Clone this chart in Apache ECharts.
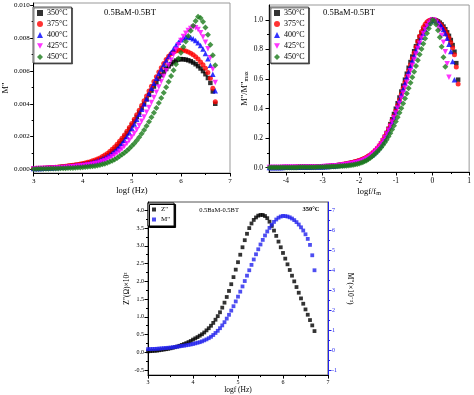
<!DOCTYPE html>
<html><head><meta charset="utf-8">
<script src="https://cdn.jsdelivr.net/npm/echarts@6/dist/echarts.min.js"></script>
<style>html,body{margin:0;padding:0;background:#fff}#c{width:474px;height:395px}</style>
</head><body><div id="c"></div>
<script>
// log10 frequency grid (Hz)
const logF = [1.60,1.65,1.70,1.75,1.80,1.85,1.90,1.95,2.00,2.05,2.10,2.15,2.20,2.25,2.30,2.35,2.40,2.45,2.50,2.55,2.60,2.65,2.70,2.75,2.80,2.85,2.90,2.95,
3.00,3.05,3.10,3.15,3.20,3.25,3.30,3.35,3.40,3.45,3.50,3.55,3.60,3.65,3.70,3.75,3.80,3.85,3.90,3.95,
4.00,4.05,4.10,4.15,4.20,4.25,4.30,4.35,4.40,4.45,4.50,4.55,4.60,4.65,4.70,4.75,4.80,4.85,4.90,4.95,
5.00,5.05,5.10,5.15,5.20,5.25,5.30,5.35,5.40,5.45,5.50,5.55,5.60,5.65,5.70,5.75,5.80,5.85,5.90,5.95,
6.00,6.05,6.10,6.15,6.20,6.25,6.30,6.35,6.40,6.45,6.50,6.55,6.60,6.65,6.70];

// M'' values in units of 1e-3
const m350 = [0.010,0.011,0.012,0.013,0.014,0.015,0.016,0.017,0.018,0.019,0.020,0.021,0.022,0.024,0.026,0.028,0.030,0.032,0.034,0.036,0.038,0.040,0.042,0.043,0.044,0.046,0.047,0.048,
0.050,0.055,0.060,0.065,0.070,0.080,0.090,0.100,0.110,0.120,0.130,0.145,0.160,0.175,0.190,0.210,0.225,0.245,0.265,0.285,
0.31,0.34,0.37,0.40,0.44,0.49,0.54,0.60,0.67,0.76,0.86,0.97,1.10,1.24,1.40,1.58,1.77,1.98,2.20,2.44,
2.68,2.93,3.19,3.46,3.73,4.00,4.27,4.54,4.80,5.05,5.29,5.52,5.74,5.94,6.12,6.28,6.42,6.54,6.63,6.69,
6.72,6.71,6.69,6.65,6.59,6.51,6.41,6.29,6.15,5.99,5.80,5.57,5.27,4.75,4.00];
const m375 = [0.012,0.013,0.014,0.015,0.016,0.017,0.018,0.019,0.020,0.021,0.022,0.024,0.026,0.028,0.030,0.032,0.034,0.036,0.038,0.040,0.042,0.044,0.046,0.048,0.050,0.052,0.055,0.058,
0.060,0.065,0.070,0.075,0.080,0.090,0.100,0.110,0.120,0.135,0.150,0.165,0.180,0.195,0.215,0.235,0.255,0.280,0.305,0.330,
0.36,0.39,0.43,0.47,0.52,0.57,0.63,0.70,0.78,0.87,0.97,1.09,1.22,1.37,1.53,1.71,1.90,2.10,2.32,2.55,
2.80,3.06,3.33,3.61,3.90,4.19,4.48,4.77,5.06,5.35,5.64,5.93,6.20,6.46,6.70,6.90,7.05,7.16,7.22,7.26,
7.27,7.26,7.22,7.16,7.08,6.98,6.86,6.72,6.55,6.37,6.16,5.90,5.55,4.95,4.12];
const m400 = [0.010,0.011,0.012,0.013,0.014,0.015,0.016,0.017,0.018,0.019,0.020,0.021,0.022,0.023,0.025,0.027,0.029,0.031,0.033,0.035,0.037,0.039,0.041,0.043,0.045,0.046,0.048,0.049,
0.050,0.050,0.055,0.060,0.065,0.070,0.080,0.090,0.100,0.110,0.120,0.130,0.145,0.160,0.175,0.190,0.210,0.230,0.250,0.270,
0.295,0.32,0.35,0.385,0.42,0.46,0.51,0.57,0.63,0.70,0.78,0.87,0.98,1.10,1.24,1.40,1.58,1.78,2.00,2.24,
2.50,2.77,3.06,3.36,3.67,3.98,4.30,4.62,4.94,5.25,5.55,5.84,6.12,6.39,6.64,6.88,7.12,7.35,7.56,7.75,
7.90,8.01,8.08,8.07,8.03,7.96,7.86,7.72,7.55,7.33,7.07,6.75,6.35,5.80,4.80];
const m425 = [0.008,0.009,0.010,0.011,0.012,0.013,0.014,0.015,0.016,0.017,0.018,0.019,0.020,0.021,0.022,0.023,0.024,0.025,0.026,0.028,0.030,0.031,0.032,0.034,0.035,0.036,0.038,0.039,
0.040,0.045,0.050,0.050,0.055,0.060,0.065,0.070,0.075,0.080,0.090,0.100,0.110,0.120,0.130,0.140,0.155,0.170,0.185,0.200,
0.22,0.24,0.26,0.285,0.31,0.34,0.38,0.42,0.47,0.53,0.60,0.68,0.77,0.88,0.99,1.11,1.25,1.41,1.58,1.77,
1.97,2.19,2.42,2.67,2.93,3.20,3.48,3.77,4.07,4.38,4.70,5.02,5.35,5.68,6.01,6.34,6.67,6.99,7.30,7.59,
7.86,8.10,8.30,8.46,8.58,8.67,8.63,8.52,8.33,8.07,7.75,7.35,6.80,6.10,5.30];
const m450 = [0.006,0.007,0.007,0.008,0.008,0.009,0.009,0.010,0.010,0.011,0.011,0.012,0.012,0.013,0.014,0.015,0.016,0.017,0.018,0.019,0.020,0.021,0.022,0.023,0.024,0.026,0.027,0.029,
0.030,0.030,0.035,0.035,0.040,0.040,0.045,0.050,0.050,0.055,0.060,0.065,0.070,0.075,0.080,0.085,0.090,0.100,0.110,0.120,
0.13,0.14,0.155,0.17,0.19,0.21,0.24,0.27,0.31,0.35,0.40,0.46,0.53,0.61,0.70,0.80,0.91,1.02,1.14,1.27,
1.42,1.58,1.76,1.96,2.17,2.40,2.64,2.90,3.17,3.45,3.74,4.04,4.35,4.67,5.00,5.34,5.69,6.04,6.40,6.76,
7.11,7.46,7.80,8.13,8.45,8.75,9.05,9.30,9.22,9.00,8.65,8.20,7.60,6.95,6.35];

// Z'' (x10^3 ohm) at 350 C, from logf = 3.00 onward
const zStart = 3.00;
const z350 = [0.03,0.035,0.04,0.045,0.05,0.06,0.07,0.08,0.09,0.10,0.115,0.13,0.145,0.165,0.185,0.21,0.235,0.26,0.29,0.32,
0.36,0.395,0.43,0.47,0.51,0.56,0.62,0.68,0.75,0.83,0.92,1.02,1.13,1.26,1.40,1.56,1.73,1.92,2.12,2.33,
2.54,2.75,2.96,3.16,3.34,3.50,3.63,3.73,3.80,3.85,3.87,3.87,3.84,3.78,3.68,3.56,3.43,3.28,3.12,2.96,
2.80,2.64,2.48,2.32,2.16,2.00,1.84,1.68,1.52,1.37,1.21,1.06,0.91,0.76,0.60];

const seriesNames = ['350°C','375°C','400°C','425°C','450°C'];
const seriesVals = [m350, m375, m400, m425, m450];

// tick values
const p1xTicks = [3,4,5,6,7], p1xMinor = [3.5,4.5,5.5,6.5];
const p1yTicks = [0,2,4,6,8,10], p1yMinor = [1,3,5,7,9];
const p2xTicks = [-4,-3,-2,-1,0,1], p2xMinor = [-3.5,-2.5,-1.5,-0.5,0.5];
const p2yTicks = [0,0.2,0.4,0.6,0.8,1.0], p2yMinor = [0.1,0.3,0.5,0.7,0.9];
const p3xTicks = [3,4,5,6,7], p3xMinor = [3.5,4.5,5.5,6.5];
const p3yTicks = [-0.5,0,0.5,1,1.5,2,2.5,3,3.5,4], p3yMinor = [-0.25,0.25,0.75,1.25,1.75,2.25,2.75,3.25,3.75];
const p3rTicks = [-1,0,1,2,3,4,5,6,7], p3rMinor = [-0.5,0.5,1.5,2.5,3.5,4.5,5.5,6.5];

// ---------- styling ----------
const SERIF = "'Liberation Serif','Times New Roman',serif";
const colors = ['#000000','#ff0000','#0000ff','#ff00ff','#1a7a1a'];
const DOWN = 'path://M0,0L10,0L5,9Z';
const symbols = ['rect','circle','triangle',DOWN,'diamond'];
const sizes = [4.5,5,5.5,5.5,6];
const BLUE = '#2222ee';

const xAxes = [], yAxes = [];
function mkAxis(dim, gi, min, max, major, minor, fmt, o){
  const col = o.color || '#000';
  const main = {type:'value', gridIndex:gi, min:min, max:max, position:o.position,
    axisLine:{show:true, onZero:false, lineStyle:{color:col, width:1}},
    axisTick:{show:true, customValues:major, length:3.5, lineStyle:{color:col, width:1}},
    axisLabel:{show:true, customValues:major, formatter:fmt, fontSize:o.fs, fontFamily:SERIF, color:o.lc||'#000', margin:o.margin},
    splitLine:{show:false},
    name:o.name, nameLocation:'middle', nameGap:o.gap, nameRotate:o.rot, nameTextStyle:o.nts};
  const mn = {type:'value', gridIndex:gi, min:min, max:max, position:o.position,
    axisLine:{show:false, onZero:false},
    axisTick:{show:true, customValues:minor, length:2, lineStyle:{color:col, width:1}},
    axisLabel:{show:false}, splitLine:{show:false}};
  const list = dim === 'x' ? xAxes : yAxes;
  const idx = list.length; list.push(main); list.push(mn); return idx;
}
const nts = (fs, extra) => Object.assign({fontFamily:SERIF, fontSize:fs, color:'#000'}, extra||{});

// panel 1
const a1x = mkAxis('x',0,3,7,p1xTicks,p1xMinor,v=>String(v),{position:'bottom',fs:7,margin:5,name:'logf (Hz)',gap:13,nts:nts(8.5)});
const a1y = mkAxis('y',0,-0.22,10.14,p1yTicks,p1yMinor,v=>(v/1000).toFixed(3),{position:'left',fs:7,margin:4,name:'M"',gap:17,rot:90,nts:nts(8.5)});
// panel 2
const a2x = mkAxis('x',1,-4.46,1,p2xTicks,p2xMinor,v=>String(v),{position:'bottom',fs:7.5,margin:5,
  name:'{a|logf/f}{b|m}',gap:15,nts:nts(8.5,{rich:{a:{fontFamily:SERIF,fontSize:8.5,lineHeight:10,verticalAlign:'top'},b:{fontFamily:SERIF,fontSize:6,lineHeight:10,padding:[3,0,0,0],verticalAlign:'top'}}})});
const a2y = mkAxis('y',1,-0.029,1.10,p2yTicks,p2yMinor,v=>v.toFixed(1),{position:'left',fs:7.5,margin:6,
  name:'{a|M"/M"}{b|max}',gap:19,rot:90,nts:nts(8.5,{rich:{a:{fontFamily:SERIF,fontSize:8.5,lineHeight:10,verticalAlign:'top'},b:{fontFamily:SERIF,fontSize:6,lineHeight:10,padding:[3,0,0,0],verticalAlign:'top'}}})});
// panel 3
const a3x = mkAxis('x',2,3,7,p3xTicks,p3xMinor,v=>String(v),{position:'bottom',fs:6,margin:4,name:'logf (Hz)',gap:9,nts:nts(7.5)});
const a3y = mkAxis('y',2,-0.64,4.235,p3yTicks,p3yMinor,v=>v.toFixed(1),{position:'left',fs:6,margin:4,name:'Z"(Ω)×10³',gap:16,rot:90,nts:nts(7.5)});
const a3r = mkAxis('y',2,-1.248,7.417,p3rTicks,p3rMinor,v=>String(v),{position:'right',fs:6,margin:4,color:BLUE,lc:BLUE,name:'M"(×10⁻³)',gap:18,rot:-90,nts:nts(7.5)});

const series = [];
// panel 1: M'' vs logf
seriesVals.forEach((arr,k)=>{
  series.push({type:'scatter', name:seriesNames[k], xAxisIndex:a1x, yAxisIndex:a1y,
    data:logF.map((x,i)=>[x,arr[i]]), symbol:symbols[k], symbolSize:sizes[k],
    itemStyle:{color:colors[k]}, clip:true, silent:true});
});
// panel 2: normalised scaling plot built from the same arrays
seriesVals.forEach((arr,k)=>{
  let mi = 0; arr.forEach((v,i)=>{ if (v > arr[mi]) mi = i; });
  series.push({type:'scatter', name:seriesNames[k], xAxisIndex:a2x, yAxisIndex:a2y,
    data:logF.map((x,i)=>[x-logF[mi], arr[i]/arr[mi]]), symbol:symbols[k], symbolSize:sizes[k],
    itemStyle:{color:colors[k]}, clip:true, silent:true});
});
// panel 3: Z'' and M'' at 350 C
const z0 = logF.indexOf(zStart);
series.push({type:'scatter', name:'Z"', xAxisIndex:a3x, yAxisIndex:a3y,
  data:z350.map((v,i)=>[logF[z0+i], v]), symbol:'rect', symbolSize:3.8, itemStyle:{color:'#000'}, clip:true, silent:true});
series.push({type:'scatter', name:'M"', xAxisIndex:a3x, yAxisIndex:a3r,
  data:m350.map((v,i)=>[logF[i], v]), symbol:'rect', symbolSize:3.8, itemStyle:{color:BLUE}, clip:true, silent:true});

const legendBase = {orient:'vertical', selectedMode:false, itemWidth:6, itemHeight:6, itemGap:3,
  borderColor:'#333', borderWidth:0.8, backgroundColor:'#fff', padding:[2,4,2,4],
  shadowColor:'rgba(0,0,0,0.6)', shadowOffsetX:1, shadowOffsetY:1, shadowBlur:0,
  textStyle:{fontFamily:SERIF, fontSize:8, color:'#000', padding:[0,0,0,-1]}};

const option = {
  backgroundColor:'#fff', animation:false,
  grid:[
    {left:28, top:3, width:202, height:170, show:true, borderColor:'#999', borderWidth:1, backgroundColor:'transparent'},
    {left:269, top:5, width:202, height:167, show:true, borderColor:'#999', borderWidth:1, backgroundColor:'transparent'},
    {left:148, top:202, width:180, height:175, show:true, borderColor:'#555', borderWidth:1, backgroundColor:'transparent'}
  ],
  xAxis:xAxes, yAxis:yAxes, series:series,
  legend:[
    Object.assign({}, legendBase, {left:33, top:7, data:seriesNames}),
    Object.assign({}, legendBase, {left:270, top:7, data:seriesNames}),
    Object.assign({}, legendBase, {left:148, top:203, data:['Z"','M"'], itemWidth:4, itemHeight:4, itemGap:3,
      borderColor:'#000', borderWidth:1, shadowColor:'#000', shadowOffsetX:1.5, shadowOffsetY:1.5, padding:[3,4,3,4],
      textStyle:{fontFamily:SERIF, fontSize:7, color:'#000'}})
  ],
  graphic:[
    {type:'text', x:130, y:13, style:{text:'0.5BaM-0.5BT', font:"8.5px 'Liberation Serif'", fill:'#000', align:'center', verticalAlign:'middle', textAlign:'center', textVerticalAlign:'middle'}},
    {type:'text', x:349, y:13, style:{text:'0.5BaM-0.5BT', font:"8.5px 'Liberation Serif'", fill:'#000', align:'center', verticalAlign:'middle', textAlign:'center', textVerticalAlign:'middle'}},
    {type:'text', x:219, y:210, style:{text:'0.5BaM-0.5BT', font:"6.5px 'Liberation Serif'", fill:'#000', align:'center', verticalAlign:'middle', textAlign:'center', textVerticalAlign:'middle'}},
    {type:'text', x:311, y:209, style:{text:'350°C', font:"bold 6.5px 'Liberation Serif'", fill:'#000', align:'center', verticalAlign:'middle', textAlign:'center', textVerticalAlign:'middle'}}
  ]
};
const chart = echarts.init(document.getElementById('c'), null, {renderer:'canvas'});
chart.setOption(option);
</script></body></html>
